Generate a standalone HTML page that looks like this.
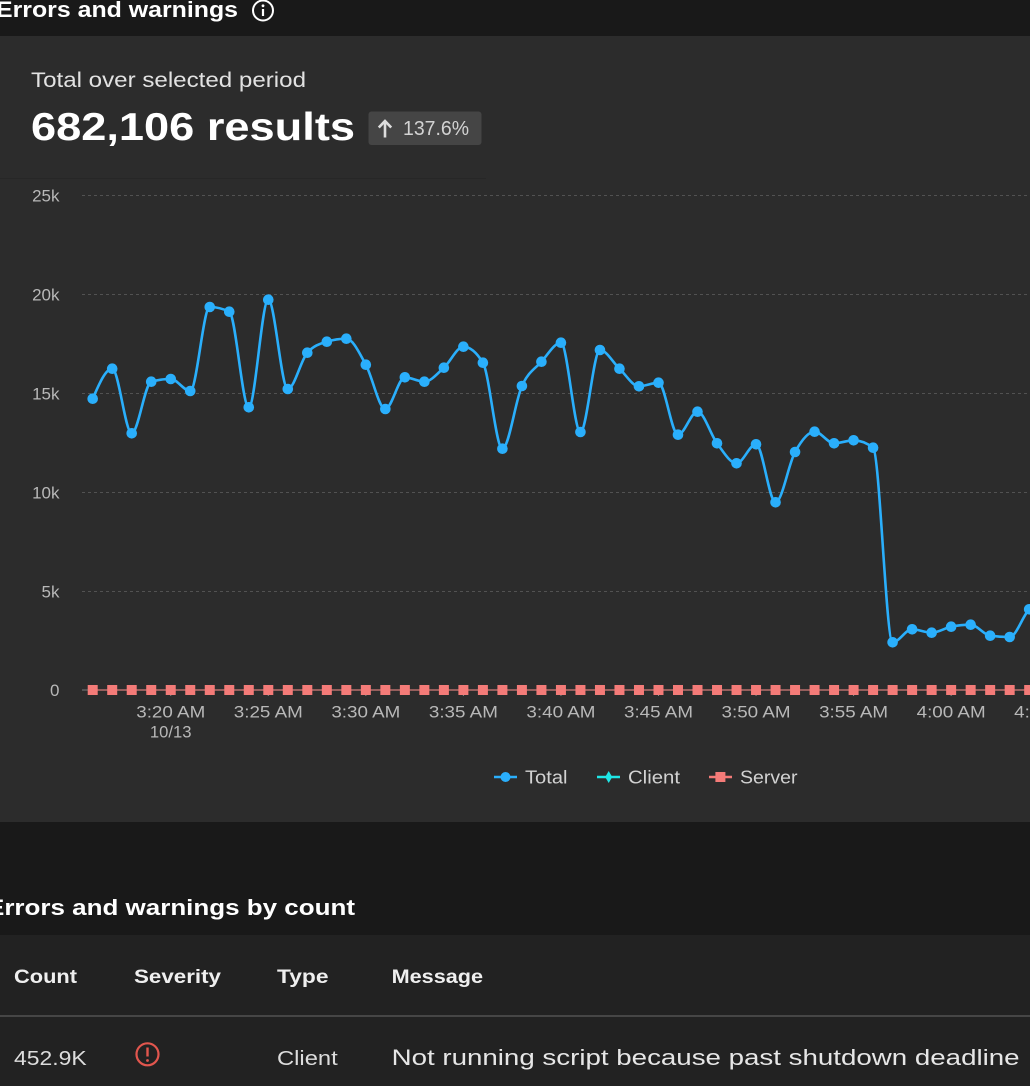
<!DOCTYPE html>
<html>
<head>
<meta charset="utf-8">
<style>
  html,body{margin:0;padding:0;background:#191919;}
  body{width:1030px;height:1086px;overflow:hidden;}
  svg{display:block;font-family:"Liberation Sans",Arial,sans-serif;}
</style>
</head>
<body>
<svg id="s" width="1030" height="1086" viewBox="0 0 1030 1086" xmlns="http://www.w3.org/2000/svg">
  <rect x="0" y="0" width="1030" height="1086" fill="#191919"/>
  <!-- Title -->
  <text x="-4" y="17" font-size="22" font-weight="bold" fill="#ffffff" textLength="242" lengthAdjust="spacingAndGlyphs">Errors and warnings</text>
  <circle cx="263" cy="10.5" r="10" fill="none" stroke="#ffffff" stroke-width="2"/>
  <circle cx="263" cy="5.8" r="1.4" fill="#ffffff"/>
  <line x1="263" y1="9" x2="263" y2="16" stroke="#ffffff" stroke-width="2.2"/>

  <!-- Panel -->
  <rect x="0" y="36" width="1030" height="786" fill="#2c2c2c"/>
  <line x1="0" y1="178.5" x2="486" y2="178.5" stroke="#272727" stroke-width="1"/>

  <text x="31" y="87" font-size="21" fill="#e2e2e2" textLength="275" lengthAdjust="spacingAndGlyphs">Total over selected period</text>
  <text x="31" y="140" font-size="39" font-weight="bold" fill="#ffffff" textLength="324" lengthAdjust="spacingAndGlyphs">682,106 results</text>
  <rect x="368.5" y="111.5" width="113" height="33.5" rx="3" fill="#454545"/>
  <line x1="385" y1="121" x2="385" y2="137.5" stroke="#dddddd" stroke-width="2.6"/>
  <polyline points="378.8,127.5 385,121 391.2,127.5" fill="none" stroke="#dddddd" stroke-width="2.6"/>
  <text x="403" y="135" font-size="20" fill="#d2d2d2" textLength="66" lengthAdjust="spacingAndGlyphs">137.6%</text>

  <!-- Grid -->
  <g stroke="#525252" stroke-width="1" stroke-dasharray="3 3">
    <line x1="82" y1="195.5" x2="1030" y2="195.5"/>
    <line x1="82" y1="294.5" x2="1030" y2="294.5"/>
    <line x1="82" y1="393.5" x2="1030" y2="393.5"/>
    <line x1="82" y1="492.5" x2="1030" y2="492.5"/>
    <line x1="82" y1="591.5" x2="1030" y2="591.5"/>
  </g>
  <line x1="82" y1="690" x2="1030" y2="690" stroke="#7a7a7a" stroke-width="1"/>

  <g font-size="17" fill="#b8b8b8" text-anchor="end">
    <text x="59.5" y="201.5">25k</text>
    <text x="59.5" y="300.5">20k</text>
    <text x="59.5" y="399.5">15k</text>
    <text x="59.5" y="498.5">10k</text>
    <text x="59.5" y="597.5">5k</text>
    <text x="59.5" y="696">0</text>
  </g>

  <g id="ticks" stroke="#8a8a8a" stroke-width="1"></g>
  <g id="xl" font-size="17" fill="#b8b8b8" text-anchor="middle"></g>
  <text x="170.7" y="737.5" font-size="17" fill="#b8b8b8" text-anchor="middle" textLength="41.7" lengthAdjust="spacingAndGlyphs">10/13</text>

  <g id="series"></g>

  <!-- Legend -->
  <line x1="494" y1="777" x2="517" y2="777" stroke="#2aaffc" stroke-width="2.5"/>
  <circle cx="505.5" cy="777" r="5" fill="#2aaffc"/>
  <text x="525" y="783.5" font-size="18.5" fill="#d2d2d2" textLength="42.5" lengthAdjust="spacingAndGlyphs">Total</text>
  <line x1="597" y1="777" x2="620" y2="777" stroke="#1fe6e6" stroke-width="2.5"/>
  <path d="M608.7 771 L612.2 777 L608.7 783 L605.2 777 Z" fill="#1fe6e6"/>
  <text x="628" y="783.5" font-size="18.5" fill="#d2d2d2" textLength="52" lengthAdjust="spacingAndGlyphs">Client</text>
  <line x1="709" y1="777" x2="732" y2="777" stroke="#f47b78" stroke-width="2.5"/>
  <rect x="715.4" y="772" width="10" height="10" fill="#f47b78"/>
  <text x="740" y="783.5" font-size="18.5" fill="#d2d2d2" textLength="57.5" lengthAdjust="spacingAndGlyphs">Server</text>

  <!-- Bottom section -->
  <text x="-13" y="915" font-size="22" font-weight="bold" fill="#ffffff" textLength="368" lengthAdjust="spacingAndGlyphs">Errors and warnings by count</text>
  <rect x="0" y="935" width="1030" height="151" fill="#222222"/>
  <rect x="0" y="1015" width="1030" height="2" fill="#464646"/>
  <g font-size="19" font-weight="bold" fill="#efefef">
    <text x="14" y="983" textLength="63" lengthAdjust="spacingAndGlyphs">Count</text>
    <text x="134" y="983" textLength="87" lengthAdjust="spacingAndGlyphs">Severity</text>
    <text x="277" y="983" textLength="51.5" lengthAdjust="spacingAndGlyphs">Type</text>
    <text x="391.6" y="983" textLength="91.5" lengthAdjust="spacingAndGlyphs">Message</text>
  </g>
  <text x="14" y="1065" font-size="20.5" fill="#dddddd" textLength="72.7" lengthAdjust="spacingAndGlyphs">452.9K</text>
  <circle cx="147.5" cy="1054.3" r="11" fill="none" stroke="#e2564e" stroke-width="2.2"/>
  <line x1="147.5" y1="1047.5" x2="147.5" y2="1056.5" stroke="#e2564e" stroke-width="2.4"/>
  <circle cx="147.5" cy="1060.5" r="1.4" fill="#e2564e"/>
  <text x="277" y="1065" font-size="20.5" fill="#dddddd" textLength="60.7" lengthAdjust="spacingAndGlyphs">Client</text>
  <text x="391.6" y="1065" font-size="22" fill="#e6e6e6" textLength="628" lengthAdjust="spacingAndGlyphs">Not running script because past shutdown deadline</text>
</svg>
<script>
(function(){
  var NS="http://www.w3.org/2000/svg";
  function el(tag,attrs,parent){var e=document.createElementNS(NS,tag);for(var k in attrs)e.setAttribute(k,attrs[k]);parent.appendChild(e);return e;}
  var ys=[398.7,368.7,433.3,381.7,379,391,307,311.7,407.3,299.7,389,352.7,341.7,338.7,364.7,409,377.3,381.7,367.7,346.7,362.7,448.7,386,361.7,342.7,432,350,368.7,386.3,382.7,434.7,411.7,443.3,463.3,444.3,502.3,452,431.7,443.3,440.3,447.7,642.3,629.3,632.7,626.7,624.7,635.7,637,609.3,598];
  var x0=92.7,dx=19.51;
  var xs=ys.map(function(_,i){return x0+dx*i;});
  var labels=["3:20 AM","3:25 AM","3:30 AM","3:35 AM","3:40 AM","3:45 AM","3:50 AM","3:55 AM","4:00 AM","4:05 AM"];
  var tg=document.getElementById("ticks"),xl=document.getElementById("xl");
  for(var k=0;k<labels.length;k++){
    var tx=x0+dx*(4+5*k);
    el("line",{x1:tx,y1:690,x2:tx,y2:696},tg);
    var t=el("text",{x:tx,y:717.5,textLength:69,lengthAdjust:"spacingAndGlyphs"},xl);t.textContent=labels[k];
  }
  var g=document.getElementById("series");
  el("line",{x1:x0,y1:690,x2:1030,y2:690,stroke:"#b86e6c","stroke-width":1.5},g);
  for(var i=0;i<xs.length;i++){
    el("rect",{x:xs[i]-5,y:685,width:10,height:10,fill:"#f47b78"},g);
  }
  var n=xs.length,h=[],s=[],t=[];
  for(i=0;i<n-1;i++){h[i]=xs[i+1]-xs[i];s[i]=(ys[i+1]-ys[i])/h[i];}
  function sign(v){return v<0?-1:1;}
  for(i=1;i<n-1;i++){
    var s0=s[i-1],s1=s[i],h0=h[i-1],h1=h[i];
    var p=(s0*h1+s1*h0)/(h0+h1);
    t[i]=(sign(s0)+sign(s1))*Math.min(Math.abs(s0),Math.abs(s1),0.5*Math.abs(p))||0;
  }
  t[0]=(3*s[0]-t[1])/2;
  t[n-1]=(3*s[n-2]-t[n-2])/2;
  var d="M"+xs[0]+","+ys[0];
  for(i=0;i<n-1;i++){
    var d3=h[i]/3;
    d+=" C"+(xs[i]+d3)+","+(ys[i]+d3*t[i])+" "+(xs[i+1]-d3)+","+(ys[i+1]-d3*t[i+1])+" "+xs[i+1]+","+ys[i+1];
  }
  el("path",{d:d,fill:"none",stroke:"#2aaffc","stroke-width":2.6},g);
  for(i=0;i<n;i++){el("circle",{cx:xs[i],cy:ys[i],r:5.3,fill:"#2aaffc"},g);}
})();
</script>
</body>
</html>
